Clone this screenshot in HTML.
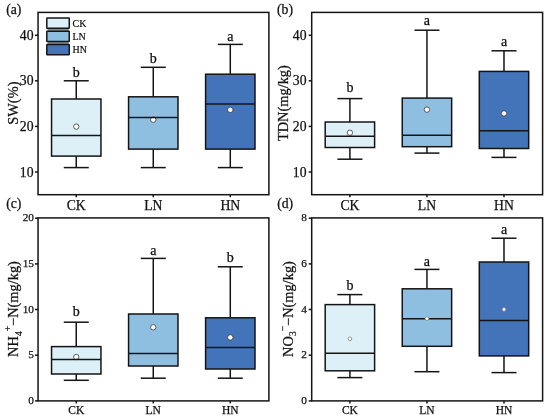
<!DOCTYPE html>
<html><head><meta charset="utf-8"><title>Box plots</title>
<style>
html,body{margin:0;padding:0;background:#fff;}
body{width:550px;height:420px;overflow:hidden;font-family:"Liberation Serif", serif;}
svg{display:block;}
</style></head><body>
<svg width="550" height="420" viewBox="0 0 550 420">
<rect width="550" height="420" fill="#fff"/>
<g stroke="#141414" stroke-width="1.5" fill="none">
<line x1="76.25" y1="80.8" x2="76.25" y2="99.0"/>
<line x1="76.25" y1="156.1" x2="76.25" y2="167.6"/>
<line x1="63.75" y1="80.8" x2="88.75" y2="80.8"/>
<line x1="63.75" y1="167.6" x2="88.75" y2="167.6"/>
<rect x="51.55" y="99.0" width="49.4" height="57.10" fill="#ddf0f8"/>
<circle cx="76.25" cy="126.6" r="2.7" fill="#fff" stroke="#3a3a3a" stroke-width="0.8"/>
<line x1="51.55" y1="135.5" x2="100.94999999999999" y2="135.5"/>
<line x1="153.27" y1="67.3" x2="153.27" y2="96.8"/>
<line x1="153.27" y1="149.1" x2="153.27" y2="167.6"/>
<line x1="140.77" y1="67.3" x2="165.77" y2="67.3"/>
<line x1="140.77" y1="167.6" x2="165.77" y2="167.6"/>
<rect x="128.57000000000002" y="96.8" width="49.4" height="52.30" fill="#8fbfe0"/>
<circle cx="153.27" cy="119.7" r="2.7" fill="#fff" stroke="#3a3a3a" stroke-width="0.8"/>
<line x1="128.57000000000002" y1="117.6" x2="177.97000000000003" y2="117.6"/>
<line x1="230.29" y1="44.4" x2="230.29" y2="74.2"/>
<line x1="230.29" y1="149.1" x2="230.29" y2="167.6"/>
<line x1="217.79" y1="44.4" x2="242.79" y2="44.4"/>
<line x1="217.79" y1="167.6" x2="242.79" y2="167.6"/>
<rect x="205.59" y="74.2" width="49.4" height="74.90" fill="#4373b9"/>
<circle cx="230.29" cy="109.8" r="2.7" fill="#fff" stroke="#3a3a3a" stroke-width="0.8"/>
<line x1="205.59" y1="103.9" x2="254.99" y2="103.9"/>
<rect x="38.05" y="12.4" width="230.85" height="182.30"/>
<line x1="35.05" y1="35.3" x2="38.05" y2="35.3"/>
<line x1="35.05" y1="80.8" x2="38.05" y2="80.8"/>
<line x1="35.05" y1="126.4" x2="38.05" y2="126.4"/>
<line x1="35.05" y1="172.0" x2="38.05" y2="172.0"/>
<line x1="76.25" y1="194.70000000000002" x2="76.25" y2="197.20000000000002"/>
<line x1="153.27" y1="194.70000000000002" x2="153.27" y2="197.20000000000002"/>
<line x1="230.29" y1="194.70000000000002" x2="230.29" y2="197.20000000000002"/>
</g>
<g font-family='"Liberation Serif", serif' fill="#111" stroke="#111" stroke-width="0.25">
<text x="33.55" y="39.82" font-size="13.7" text-anchor="end">40</text>
<text x="33.55" y="85.32" font-size="13.7" text-anchor="end">30</text>
<text x="33.55" y="130.92" font-size="13.7" text-anchor="end">20</text>
<text x="33.55" y="176.52" font-size="13.7" text-anchor="end">10</text>
<text x="76.25" y="209.5" font-size="13.7" text-anchor="middle">CK</text>
<text x="153.27" y="209.5" font-size="13.7" text-anchor="middle">LN</text>
<text x="230.29" y="209.5" font-size="13.7" text-anchor="middle">HN</text>
<text x="76.25" y="76.90" font-size="14" text-anchor="middle">b</text>
<text x="153.27" y="62.60" font-size="14" text-anchor="middle">b</text>
<text x="230.29" y="41.00" font-size="14" text-anchor="middle">a</text>
<text x="6.2" y="13.7" font-size="13.7">(a)</text>
<text transform="translate(17.6,103.15) rotate(-90)" font-size="14.4" text-anchor="middle">SW(%)</text>
</g>
<g stroke="#141414" stroke-width="1.5" fill="none">
<line x1="349.91" y1="98.6" x2="349.91" y2="122.0"/>
<line x1="349.91" y1="147.5" x2="349.91" y2="159.2"/>
<line x1="337.41" y1="98.6" x2="362.41" y2="98.6"/>
<line x1="337.41" y1="159.2" x2="362.41" y2="159.2"/>
<rect x="325.21000000000004" y="122.0" width="49.4" height="25.50" fill="#ddf0f8"/>
<circle cx="349.91" cy="132.7" r="2.7" fill="#fff" stroke="#3a3a3a" stroke-width="0.8"/>
<line x1="325.21000000000004" y1="136.3" x2="374.61" y2="136.3"/>
<line x1="426.95" y1="30.2" x2="426.95" y2="98.1"/>
<line x1="426.95" y1="146.7" x2="426.95" y2="153.1"/>
<line x1="414.45" y1="30.2" x2="439.45" y2="30.2"/>
<line x1="414.45" y1="153.1" x2="439.45" y2="153.1"/>
<rect x="402.25" y="98.1" width="49.4" height="48.60" fill="#8fbfe0"/>
<circle cx="426.95" cy="109.6" r="2.7" fill="#fff" stroke="#3a3a3a" stroke-width="0.8"/>
<line x1="402.25" y1="135.3" x2="451.65" y2="135.3"/>
<line x1="503.99" y1="50.8" x2="503.99" y2="71.4"/>
<line x1="503.99" y1="148.5" x2="503.99" y2="157.4"/>
<line x1="491.49" y1="50.8" x2="516.49" y2="50.8"/>
<line x1="491.49" y1="157.4" x2="516.49" y2="157.4"/>
<rect x="479.29" y="71.4" width="49.4" height="77.10" fill="#4373b9"/>
<circle cx="503.99" cy="113.4" r="2.7" fill="#fff" stroke="#3a3a3a" stroke-width="0.8"/>
<line x1="479.29" y1="130.7" x2="528.69" y2="130.7"/>
<rect x="311.7" y="12.4" width="230.90" height="182.30"/>
<line x1="308.7" y1="35.3" x2="311.7" y2="35.3"/>
<line x1="308.7" y1="80.8" x2="311.7" y2="80.8"/>
<line x1="308.7" y1="126.4" x2="311.7" y2="126.4"/>
<line x1="308.7" y1="172.0" x2="311.7" y2="172.0"/>
<line x1="349.91" y1="194.70000000000002" x2="349.91" y2="197.20000000000002"/>
<line x1="426.95" y1="194.70000000000002" x2="426.95" y2="197.20000000000002"/>
<line x1="503.99" y1="194.70000000000002" x2="503.99" y2="197.20000000000002"/>
</g>
<g font-family='"Liberation Serif", serif' fill="#111" stroke="#111" stroke-width="0.25">
<text x="306.5" y="39.82" font-size="13.7" text-anchor="end">40</text>
<text x="306.5" y="85.32" font-size="13.7" text-anchor="end">30</text>
<text x="306.5" y="130.92" font-size="13.7" text-anchor="end">20</text>
<text x="306.5" y="176.52" font-size="13.7" text-anchor="end">10</text>
<text x="349.91" y="209.5" font-size="13.7" text-anchor="middle">CK</text>
<text x="426.95" y="209.5" font-size="13.7" text-anchor="middle">LN</text>
<text x="503.99" y="209.5" font-size="13.7" text-anchor="middle">HN</text>
<text x="349.91" y="91.60" font-size="14" text-anchor="middle">b</text>
<text x="426.95" y="25.30" font-size="14" text-anchor="middle">a</text>
<text x="503.99" y="45.60" font-size="14" text-anchor="middle">a</text>
<text x="277.0" y="13.7" font-size="13.7">(b)</text>
<text transform="translate(288.1,103.15) rotate(-90)" font-size="14.4" text-anchor="middle">TDN(mg/kg)</text>
</g>
<g stroke="#141414" stroke-width="1.5" fill="none">
<line x1="76.25" y1="322.2" x2="76.25" y2="346.6"/>
<line x1="76.25" y1="374.0" x2="76.25" y2="380.3"/>
<line x1="63.75" y1="322.2" x2="88.75" y2="322.2"/>
<line x1="63.75" y1="380.3" x2="88.75" y2="380.3"/>
<rect x="51.55" y="346.6" width="49.4" height="27.40" fill="#ddf0f8"/>
<circle cx="76.25" cy="357.0" r="2.7" fill="#fff" stroke="#3a3a3a" stroke-width="0.8"/>
<line x1="51.55" y1="359.6" x2="100.94999999999999" y2="359.6"/>
<line x1="153.27" y1="258.4" x2="153.27" y2="314.0"/>
<line x1="153.27" y1="366.0" x2="153.27" y2="378.2"/>
<line x1="140.77" y1="258.4" x2="165.77" y2="258.4"/>
<line x1="140.77" y1="378.2" x2="165.77" y2="378.2"/>
<rect x="128.57000000000002" y="314.0" width="49.4" height="52.00" fill="#8fbfe0"/>
<circle cx="153.27" cy="327.3" r="2.7" fill="#fff" stroke="#3a3a3a" stroke-width="0.8"/>
<line x1="128.57000000000002" y1="353.5" x2="177.97000000000003" y2="353.5"/>
<line x1="230.29" y1="266.8" x2="230.29" y2="317.8"/>
<line x1="230.29" y1="369.0" x2="230.29" y2="378.2"/>
<line x1="217.79" y1="266.8" x2="242.79" y2="266.8"/>
<line x1="217.79" y1="378.2" x2="242.79" y2="378.2"/>
<rect x="205.59" y="317.8" width="49.4" height="51.20" fill="#4373b9"/>
<circle cx="230.29" cy="337.4" r="2.7" fill="#fff" stroke="#3a3a3a" stroke-width="0.8"/>
<line x1="205.59" y1="347.5" x2="254.99" y2="347.5"/>
<rect x="38.05" y="217.9" width="230.85" height="183.00"/>
<line x1="35.05" y1="218.2" x2="38.05" y2="218.2"/>
<line x1="35.05" y1="263.9" x2="38.05" y2="263.9"/>
<line x1="35.05" y1="309.5" x2="38.05" y2="309.5"/>
<line x1="35.05" y1="355.2" x2="38.05" y2="355.2"/>
<line x1="35.05" y1="400.9" x2="38.05" y2="400.9"/>
<line x1="76.25" y1="400.9" x2="76.25" y2="403.4"/>
<line x1="153.27" y1="400.9" x2="153.27" y2="403.4"/>
<line x1="230.29" y1="400.9" x2="230.29" y2="403.4"/>
</g>
<g font-family='"Liberation Serif", serif' fill="#111" stroke="#111" stroke-width="0.25">
<text x="33.949999999999996" y="221.36" font-size="11.3" text-anchor="end">20</text>
<text x="33.949999999999996" y="267.06" font-size="11.3" text-anchor="end">15</text>
<text x="33.949999999999996" y="312.66" font-size="11.3" text-anchor="end">10</text>
<text x="33.949999999999996" y="358.36" font-size="11.3" text-anchor="end">5</text>
<text x="33.949999999999996" y="404.06" font-size="11.3" text-anchor="end">0</text>
<text x="76.25" y="414.0" font-size="11.5" text-anchor="middle">CK</text>
<text x="153.27" y="414.0" font-size="11.5" text-anchor="middle">LN</text>
<text x="230.29" y="414.0" font-size="11.5" text-anchor="middle">HN</text>
<text x="76.25" y="316.20" font-size="14" text-anchor="middle">b</text>
<text x="153.27" y="254.50" font-size="14" text-anchor="middle">a</text>
<text x="230.29" y="262.00" font-size="14" text-anchor="middle">b</text>
<text x="6.2" y="207.5" font-size="13.7">(c)</text>
<text transform="translate(18.0,309.00) rotate(-90)" font-size="14.4" text-anchor="middle">NH<tspan font-size="9.5" dy="3.5">4</tspan><tspan font-size="9.5" dy="-10.5">+</tspan><tspan dy="7">−N(mg/kg)</tspan></text>
</g>
<g stroke="#141414" stroke-width="1.5" fill="none">
<line x1="349.91" y1="294.6" x2="349.91" y2="304.6"/>
<line x1="349.91" y1="370.8" x2="349.91" y2="377.6"/>
<line x1="337.41" y1="294.6" x2="362.41" y2="294.6"/>
<line x1="337.41" y1="377.6" x2="362.41" y2="377.6"/>
<rect x="325.21000000000004" y="304.6" width="49.4" height="66.20" fill="#ddf0f8"/>
<line x1="325.21000000000004" y1="353.2" x2="374.61" y2="353.2"/>
<circle cx="349.91" cy="338.9" r="1.85" fill="#fff" stroke="#808080" stroke-width="0.8"/>
<line x1="426.95" y1="269.4" x2="426.95" y2="288.8"/>
<line x1="426.95" y1="346.3" x2="426.95" y2="371.7"/>
<line x1="414.45" y1="269.4" x2="439.45" y2="269.4"/>
<line x1="414.45" y1="371.7" x2="439.45" y2="371.7"/>
<rect x="402.25" y="288.8" width="49.4" height="57.50" fill="#8fbfe0"/>
<line x1="402.25" y1="318.7" x2="451.65" y2="318.7"/>
<circle cx="426.95" cy="318.6" r="1.85" fill="#fff" stroke="#808080" stroke-width="0.8"/>
<line x1="503.99" y1="238.2" x2="503.99" y2="262.0"/>
<line x1="503.99" y1="355.9" x2="503.99" y2="372.6"/>
<line x1="491.49" y1="238.2" x2="516.49" y2="238.2"/>
<line x1="491.49" y1="372.6" x2="516.49" y2="372.6"/>
<rect x="479.29" y="262.0" width="49.4" height="93.90" fill="#4373b9"/>
<line x1="479.29" y1="320.5" x2="528.69" y2="320.5"/>
<circle cx="503.99" cy="309.4" r="1.85" fill="#fff" stroke="#808080" stroke-width="0.8"/>
<rect x="311.7" y="217.9" width="230.90" height="183.00"/>
<line x1="308.7" y1="218.2" x2="311.7" y2="218.2"/>
<line x1="308.7" y1="263.9" x2="311.7" y2="263.9"/>
<line x1="308.7" y1="309.5" x2="311.7" y2="309.5"/>
<line x1="308.7" y1="355.2" x2="311.7" y2="355.2"/>
<line x1="308.7" y1="400.9" x2="311.7" y2="400.9"/>
<line x1="349.91" y1="400.9" x2="349.91" y2="403.4"/>
<line x1="426.95" y1="400.9" x2="426.95" y2="403.4"/>
<line x1="503.99" y1="400.9" x2="503.99" y2="403.4"/>
</g>
<g font-family='"Liberation Serif", serif' fill="#111" stroke="#111" stroke-width="0.25">
<text x="307.0" y="221.36" font-size="11.3" text-anchor="end">8</text>
<text x="307.0" y="267.06" font-size="11.3" text-anchor="end">6</text>
<text x="307.0" y="312.66" font-size="11.3" text-anchor="end">4</text>
<text x="307.0" y="358.36" font-size="11.3" text-anchor="end">2</text>
<text x="307.0" y="404.06" font-size="11.3" text-anchor="end">0</text>
<text x="349.91" y="414.0" font-size="11.5" text-anchor="middle">CK</text>
<text x="426.95" y="414.0" font-size="11.5" text-anchor="middle">LN</text>
<text x="503.99" y="414.0" font-size="11.5" text-anchor="middle">HN</text>
<text x="349.91" y="290.20" font-size="14" text-anchor="middle">b</text>
<text x="426.95" y="265.80" font-size="14" text-anchor="middle">a</text>
<text x="503.99" y="233.60" font-size="14" text-anchor="middle">a</text>
<text x="277.2" y="207.5" font-size="13.7">(d)</text>
<text transform="translate(292.7,309.00) rotate(-90)" font-size="14.4" text-anchor="middle">NO<tspan font-size="9.5" dy="3.5">3</tspan><tspan font-size="9.5" dy="-10.5">−</tspan><tspan dy="7">−N(mg/kg)</tspan></text>
</g>
<rect x="47.6" y="27" width="21.2" height="18.5" fill="#8c8c8c"/>
<g stroke="#151515" stroke-width="1.5">
<rect x="46.8" y="18.10" width="22.45" height="10.2" rx="0.5" fill="#ddf0f8"/>
<rect x="46.8" y="31.30" width="22.45" height="10.2" rx="0.5" fill="#8fbfe0"/>
<rect x="46.8" y="44.50" width="22.45" height="10.2" rx="0.5" fill="#4373b9"/>
</g>
<g font-family='"Liberation Serif", serif' fill="#111" stroke="#111" stroke-width="0.2" font-size="10">
<text x="72.5" y="26.60">CK</text>
<text x="72.5" y="39.80">LN</text>
<text x="72.5" y="53.00">HN</text>
</g>
</svg>
</body></html>
